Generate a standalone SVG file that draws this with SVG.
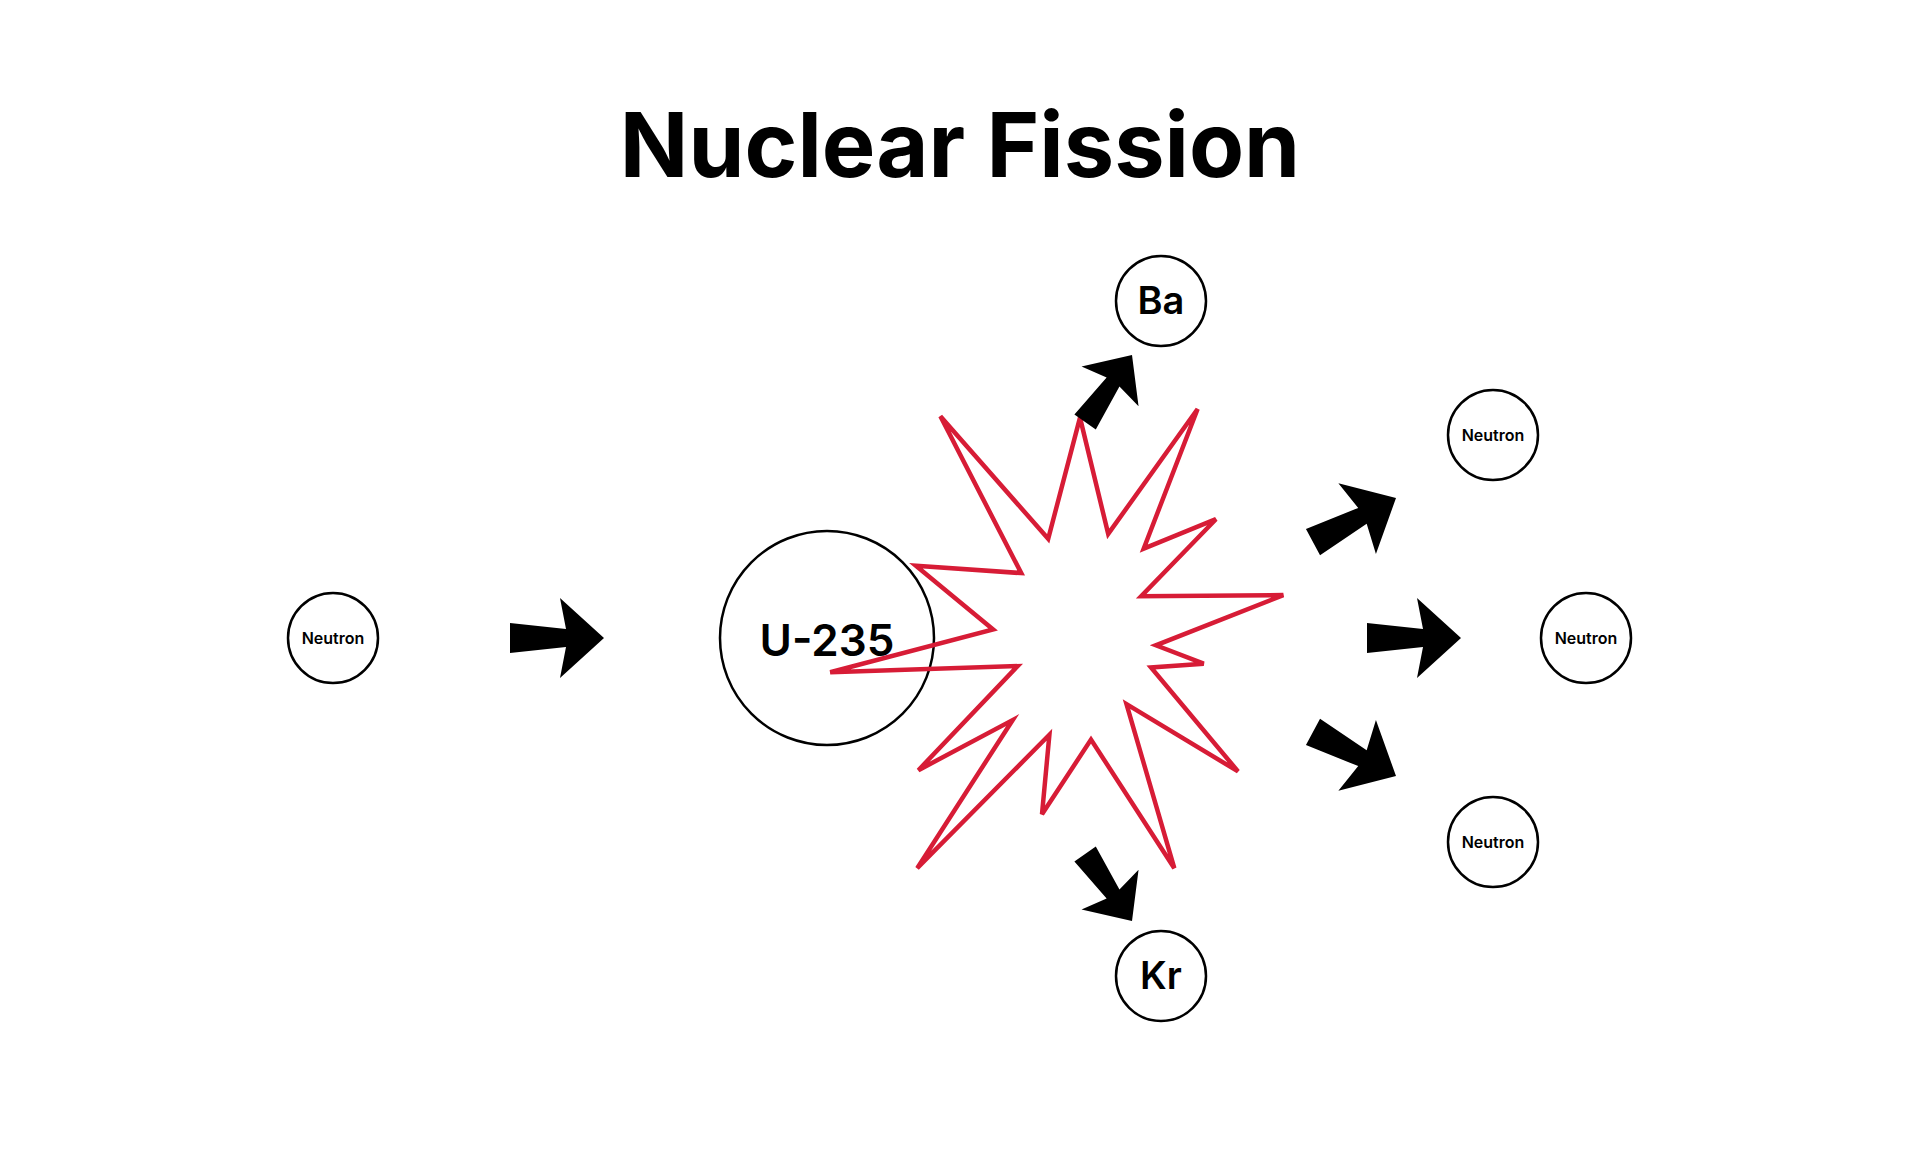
<svg xmlns="http://www.w3.org/2000/svg" xmlns:xlink="http://www.w3.org/1999/xlink" width="1920" height="1159" viewBox="0 0 1920 1159">
<style>
.c{fill:#fff;stroke:#000;stroke-width:2.5}
.t{font-family:Inter,"Liberation Sans",sans-serif;font-weight:600;text-anchor:middle;fill:#000}
.n{font-size:16px}
.b{font-size:38px}
.ar{fill:#000}
</style>
<defs>
<path id="arr" class="ar" d="M-94,-15 L-38,-9 L-44,-40 L0,0 L-44,40 L-38,9 L-94,15 Z"/>
</defs>
<rect width="1920" height="1159" fill="#fff"/>
<text class="t" x="960" y="177" style="font-size:90px;font-weight:700">Nuclear Fission</text>
<g id="neutron-in"><circle class="c" cx="333" cy="638" r="45"/><text class="t n" x="333" y="644">Neutron</text></g>
<g id="u235"><circle class="c" cx="827" cy="638" r="107"/><text class="t" x="827" y="656" style="font-size:44px">U-235</text></g>
<g id="explosion"><polygon fill="none" stroke="#d71c36" stroke-width="4.5" stroke-linejoin="miter" points="830.2,672.3 993.1,629.4 915.9,565.7 1021.2,573.1 940.4,416.3 1048.2,538.8 1080,417.6 1108.2,533.9 1197.6,409 1143.7,548.6 1215.9,519.2 1141.2,596.3 1283.3,595.1 1155.9,645.3 1203.7,663.7 1151,667.4 1238,771.4 1126.5,704.1 1174.3,868.2 1091,739.6 1042,814.3 1049.4,734.7 917.2,868.2 1012.7,720 918.4,770.2 1017.6,666.1"/></g>
<g id="ba"><circle class="c" cx="1161" cy="301" r="45"/><text class="t b" x="1161" y="314">Ba</text></g>
<g id="kr"><circle class="c" cx="1161" cy="976" r="45"/><text class="t b" x="1161" y="989">Kr</text></g>
<g id="neutron-1"><circle class="c" cx="1493" cy="435" r="45"/><text class="t n" x="1493" y="441">Neutron</text></g>
<g id="neutron-2"><circle class="c" cx="1586" cy="638" r="45"/><text class="t n" x="1586" y="644">Neutron</text></g>
<g id="neutron-3"><circle class="c" cx="1493" cy="842" r="45"/><text class="t n" x="1493" y="848">Neutron</text></g>
<g id="connectors">
<use xlink:href="#arr" transform="translate(604,638)"/>
<use xlink:href="#arr" transform="translate(1461,638)"/>
<use xlink:href="#arr" transform="translate(1396,498) rotate(-28)"/>
<use xlink:href="#arr" transform="translate(1396,776) rotate(28)"/>
<use xlink:href="#arr" transform="translate(1132,355) rotate(-55) scale(0.87)"/>
<use xlink:href="#arr" transform="translate(1132,921) rotate(55) scale(0.87)"/>
</g>
</svg>
